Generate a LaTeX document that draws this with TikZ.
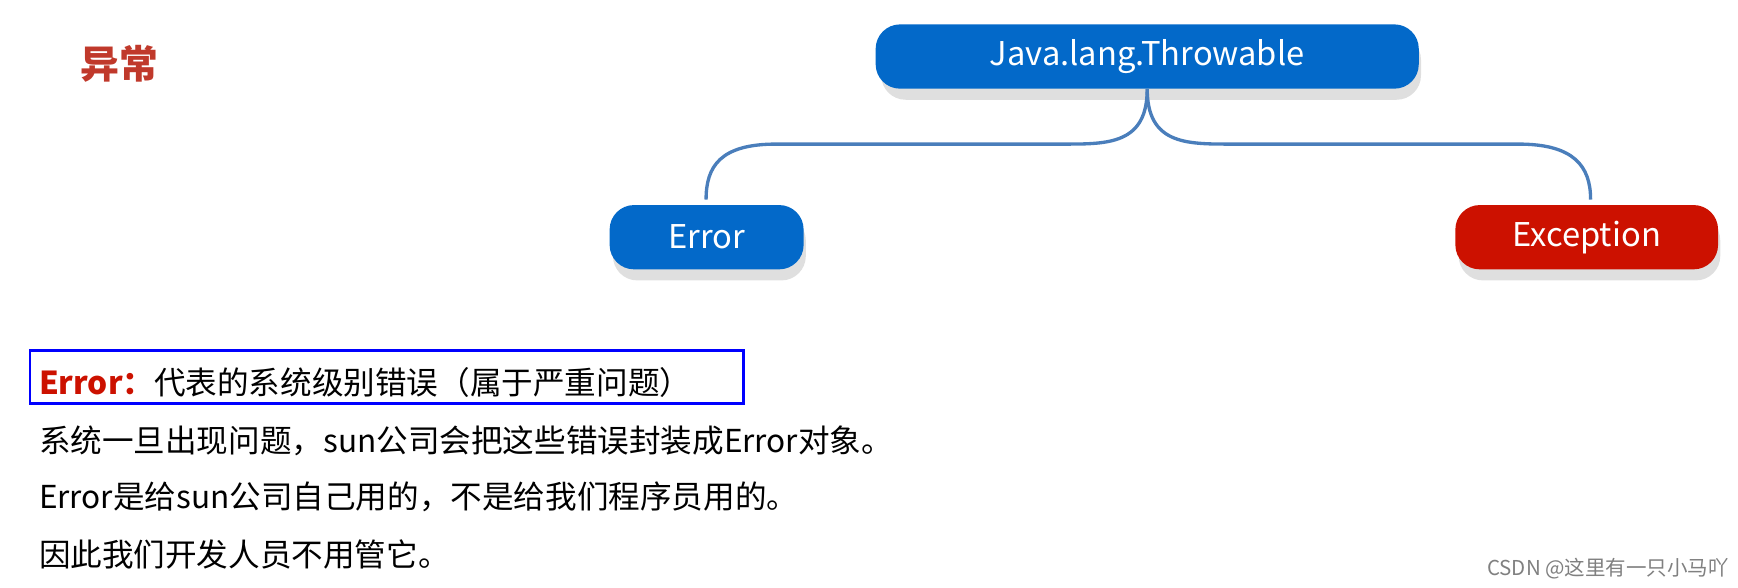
\documentclass[tikz,border=0pt]{standalone}
\usepackage{fontspec}
\setmainfont{Noto Sans CJK SC}
\definecolor{nodeblue}{HTML}{0369C9}
\definecolor{nodered}{HTML}{CC1100}
\definecolor{linkblue}{HTML}{4A7EBB}
\definecolor{titlered}{HTML}{C0392B}
\begin{document}
\begin{tikzpicture}[x=1pt,y=-1pt,
  pill/.style={rounded corners=22pt,text=white,font=\fontsize{29.5}{34}\selectfont,inner sep=0pt},
  link/.style={linkblue,line width=3pt},
  body/.style={anchor=west,font=\fontsize{28.5}{32}\selectfont,inner sep=0pt}]
\useasboundingbox (0,0) rectangle (1568,530);
% shadows
\fill[gray!25,rounded corners=22pt] (795,32) rectangle (1282,90);
\fill[gray!25,rounded corners=22pt] (553,195) rectangle (727,253);
\fill[gray!25,rounded corners=22pt] (1316,195) rectangle (1552,253);
\node[pill,fill=nodeblue,minimum width=490pt,minimum height=58pt] (root) at (1035,51) {Java.lang.Throwable};
\node[pill,fill=nodeblue,minimum width=175pt,minimum height=58pt] (err) at (637.5,214) {Error};
\node[pill,fill=nodered,minimum width=237pt,minimum height=58pt] (exc) at (1431.5,214) {Exception};
\coordinate (ea) at (637,180);
\coordinate (xa) at (1435,180);
\draw[link] (root.south) .. controls (1035,130) and (1000,130) .. (960,130) -- (700,130) .. controls (650,130) and (637,150) .. (ea);
\draw[link] (root.south) .. controls (1035,130) and (1070,130) .. (1110,130) -- (1370,130) .. controls (1420,130) and (1435,150) .. (xa);
\node[font=\fontsize{35}{40}\selectfont\bfseries,text=titlered] (title) at (108,58) {异常};
\node[draw=blue,line width=2.5pt,minimum width=644pt,minimum height=48pt,inner sep=0pt] (box) at (349,340) {};
\node[body] (l1) at (35,345) {\textcolor{nodered}{\bfseries Error：}代表的系统级别错误（属于严重问题）};
\node[body] (l2) at (35,398) {系统一旦出现问题，sun公司会把这些错误封装成Error对象。};
\node[body] (l3) at (35,448) {Error是给sun公司自己用的，不是给我们程序员用的。};
\node[body] (l4) at (35,500) {因此我们开发人员不用管它。};
\node[anchor=east,text=gray,font=\fontsize{18.5}{22}\selectfont,inner sep=0pt] (wm) at (1560,513) {CSDN @这里有一只小马吖};
\end{tikzpicture}
\end{document}
